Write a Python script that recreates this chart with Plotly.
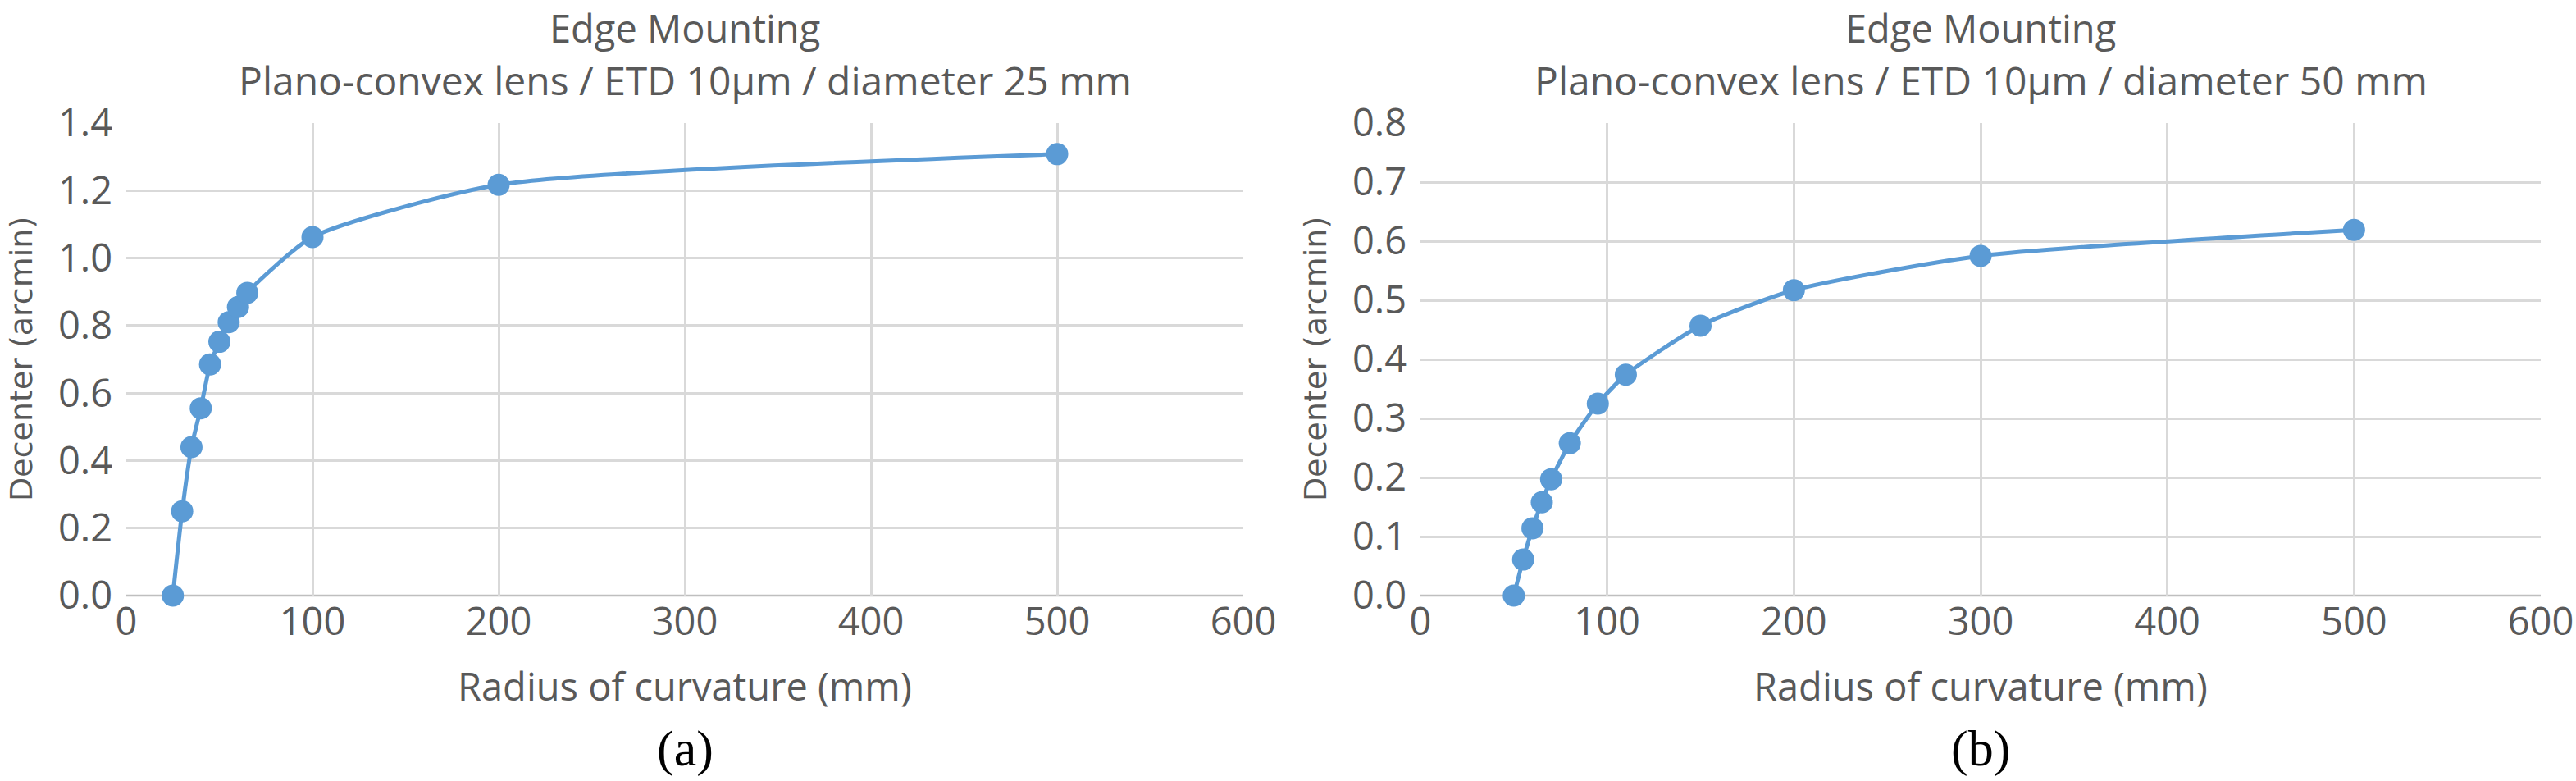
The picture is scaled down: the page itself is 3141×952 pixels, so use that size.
import plotly.graph_objects as go

# ---- data ----
radius_a = [25, 30, 35, 40, 45, 50, 55, 60, 65, 100, 200, 500]
decenter_a = [0.0, 0.25, 0.44, 0.555, 0.685, 0.752, 0.81, 0.855, 0.897, 1.062, 1.217, 1.308]

radius_b = [50, 55, 60, 65, 70, 80, 95, 110, 150, 200, 300, 500]
decenter_b = [0.0, 0.061, 0.114, 0.158, 0.197, 0.258, 0.325, 0.374, 0.457, 0.517, 0.575, 0.619]

title_line1 = "Edge Mounting"
title_a = "Plano-convex lens / ETD 10\u03bcm / diameter 25 mm"
title_b = "Plano-convex lens / ETD 10\u03bcm / diameter 50 mm"
x_title = "Radius of curvature (mm)"
y_title = "Decenter (arcmin)"
labels = ["(a)", "(b)"]

W, H = 3141, 952
LINE = "#5b9bd5"
TXT = "#595959"
GRID = "#d9d9d9"
FONT = "Open Sans, sans-serif"

fig = go.Figure()
fig.add_trace(go.Scatter(x=radius_a, y=decenter_a, mode="lines+markers",
                         line=dict(color=LINE, width=5, shape="spline", smoothing=0.6),
                         marker=dict(color=LINE, size=27), xaxis="x", yaxis="y",
                         showlegend=False, cliponaxis=False))
fig.add_trace(go.Scatter(x=radius_b, y=decenter_b, mode="lines+markers",
                         line=dict(color=LINE, width=5, shape="spline", smoothing=0.6),
                         marker=dict(color=LINE, size=27), xaxis="x2", yaxis="y2",
                         showlegend=False, cliponaxis=False))

def px(x):
    return x / W

def py(y):
    return 1 - y / H

ydom = [py(726), py(150)]
xdom_a = [px(154), px(1516)]
xdom_b = [px(1732), px(3098)]

axis_common = dict(showgrid=True, gridcolor=GRID, gridwidth=2.5, zeroline=False,
                   tickfont=dict(family=FONT, size=47, color=TXT), ticks="",
                   showline=False, automargin=False)

fig.update_layout(
    width=W, height=H, margin=dict(l=0, r=0, t=0, b=0, pad=0, autoexpand=False),
    paper_bgcolor="white", plot_bgcolor="white",
    xaxis=dict(domain=xdom_a, range=[0, 600], dtick=100, anchor="y", **axis_common),
    yaxis=dict(domain=ydom, range=[0, 1.4], dtick=0.2, tickformat=".1f", anchor="x",
               ticklabelstandoff=16, **axis_common),
    xaxis2=dict(domain=xdom_b, range=[0, 600], dtick=100, anchor="y2", **axis_common),
    yaxis2=dict(domain=ydom, range=[0, 0.8], dtick=0.1, tickformat=".1f", anchor="x2",
                ticklabelstandoff=16, **axis_common),
)

# bottom axis lines slightly darker
for xd in (xdom_a, xdom_b):
    fig.add_shape(type="line", xref="paper", yref="paper", x0=xd[0], x1=xd[1],
                  y0=ydom[0], y1=ydom[0], line=dict(color="#bfbfbf", width=2.5), layer="below")

ann = []
for xd, t2, lab in ((xdom_a, title_a, labels[0]), (xdom_b, title_b, labels[1])):
    cx = (xd[0] + xd[1]) / 2
    ann.append(dict(text=title_line1, x=cx, y=py(0), xref="paper", yref="paper",
                    showarrow=False, xanchor="center", yanchor="top",
                    font=dict(family=FONT, size=47, color=TXT)))
    ann.append(dict(text=t2, x=cx, y=py(63), xref="paper", yref="paper",
                    showarrow=False, xanchor="center", yanchor="top",
                    font=dict(family=FONT, size=48, color=TXT)))
    ann.append(dict(text=x_title, x=cx, y=py(836), xref="paper", yref="paper",
                    showarrow=False, xanchor="center", yanchor="middle",
                    font=dict(family=FONT, size=47, color=TXT)))
    ann.append(dict(text=lab, x=cx, y=py(912), xref="paper", yref="paper",
                    showarrow=False, xanchor="center", yanchor="middle",
                    font=dict(family="Liberation Serif, serif", size=62, color="black")))
    ann.append(dict(text=y_title, x=xd[0] - px(128), y=py(438), xref="paper", yref="paper",
                    showarrow=False, xanchor="center", yanchor="middle", textangle=-90,
                    font=dict(family="DejaVu Sans, sans-serif", size=38, color=TXT)))
fig.update_layout(annotations=ann)

fig.write_html("out.html")
